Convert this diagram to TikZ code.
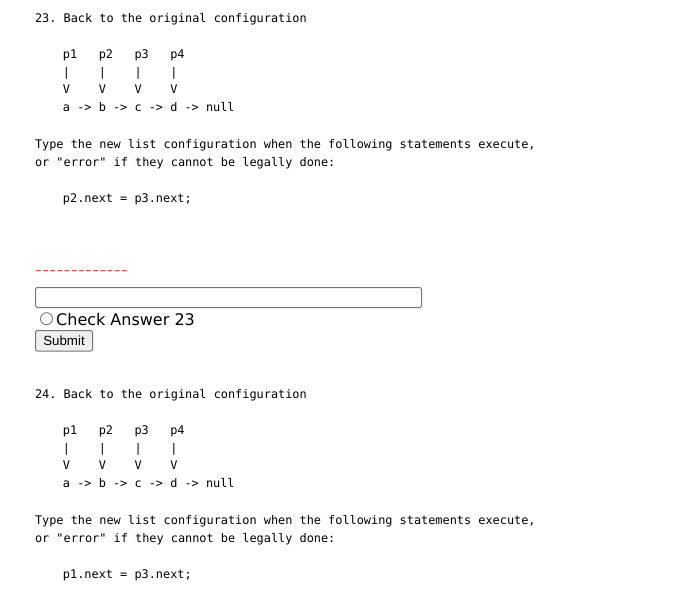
\documentclass[tikz,border=0pt]{standalone}
\usepackage{fontspec}
\usepackage{graphicx}
\setmainfont{DejaVu Sans}
\setmonofont{DejaVu Sans Mono}
\newfontfamily\btnfont{Liberation Sans}
\definecolor{ctrlborder}{HTML}{767676}
\definecolor{btnfill}{HTML}{EFEFEF}
\newcommand{\wdash}{\makebox[7.16pt]{\scalebox{1.6}[1]{-}}}
\tikzset{
  code/.style={anchor=base west, inner sep=0pt, outer sep=0pt, text=black,
    font=\fontsize{11.88}{14}\selectfont\ttfamily},
  reddash/.style={code, text=red},
  inputbox/.style={draw=ctrlborder, line width=1pt, rounded corners=2pt, fill=white,
    anchor=north west, inner sep=0pt, minimum width=386pt, minimum height=20pt},
  radio/.style={circle, draw=ctrlborder, line width=0.9pt, inner sep=0pt, minimum size=12pt},
  checklabel/.style={anchor=base west, inner sep=0pt, text=black,
    font=\fontsize{16}{19}\selectfont},
  button/.style={draw=ctrlborder, line width=1pt, rounded corners=2pt, fill=btnfill,
    anchor=north west, inner sep=0pt, minimum width=57pt, minimum height=20.5pt,
    text=black, font=\fontsize{13.33}{16}\selectfont\btnfont},
}
\begin{document}
\begin{tikzpicture}[x=1pt, y=-1pt]
  \fill[white] (0,0) rectangle (681,614);
  \useasboundingbox (0,0) rectangle (681,614);

  % ---- question 23 ----
  \node[code] (h23) at (35,22) {23. Back to the original configuration};
  \node[code] (p23) at (63,58.5) {p1~~~p2~~~p3~~~p4};
  \node[code] (bar23) at (63,76) {|~~~~|~~~~|~~~~|};
  \node[code] (v23) at (63,93.5) {V~~~~V~~~~V~~~~V};
  \node[code] (l23) at (63,111) {a -> b -> c -> d -> null};
  \node[code] (t23a) at (35,148) {Type the new list configuration when the following statements execute,};
  \node[code] (t23b) at (35,166) {or "error" if they cannot be legally done:};
  \node[code] (s23) at (63,202) {p2.next = p3.next;};
  \node[reddash] (d23) at (35,274.5) {\wdash\wdash\wdash\wdash\wdash\wdash\wdash\wdash\wdash\wdash\wdash\wdash\wdash};
  \node[inputbox] (box23) at (35,287) {};
  \node[radio] (r23) at (46.5,318.7) {};
  \node[checklabel] (c23) at (56,325) {Check Answer 23};
  \node[button] (b23) at (35,330) {Submit};

  % ---- question 24 ----
  \node[code] (h24) at (35,398) {24. Back to the original configuration};
  \node[code] (p24) at (63,434.5) {p1~~~p2~~~p3~~~p4};
  \node[code] (bar24) at (63,452) {|~~~~|~~~~|~~~~|};
  \node[code] (v24) at (63,469.5) {V~~~~V~~~~V~~~~V};
  \node[code] (l24) at (63,487) {a -> b -> c -> d -> null};
  \node[code] (t24a) at (35,524) {Type the new list configuration when the following statements execute,};
  \node[code] (t24b) at (35,542) {or "error" if they cannot be legally done:};
  \node[code] (s24) at (63,578) {p1.next = p3.next;};
\end{tikzpicture}
\end{document}
